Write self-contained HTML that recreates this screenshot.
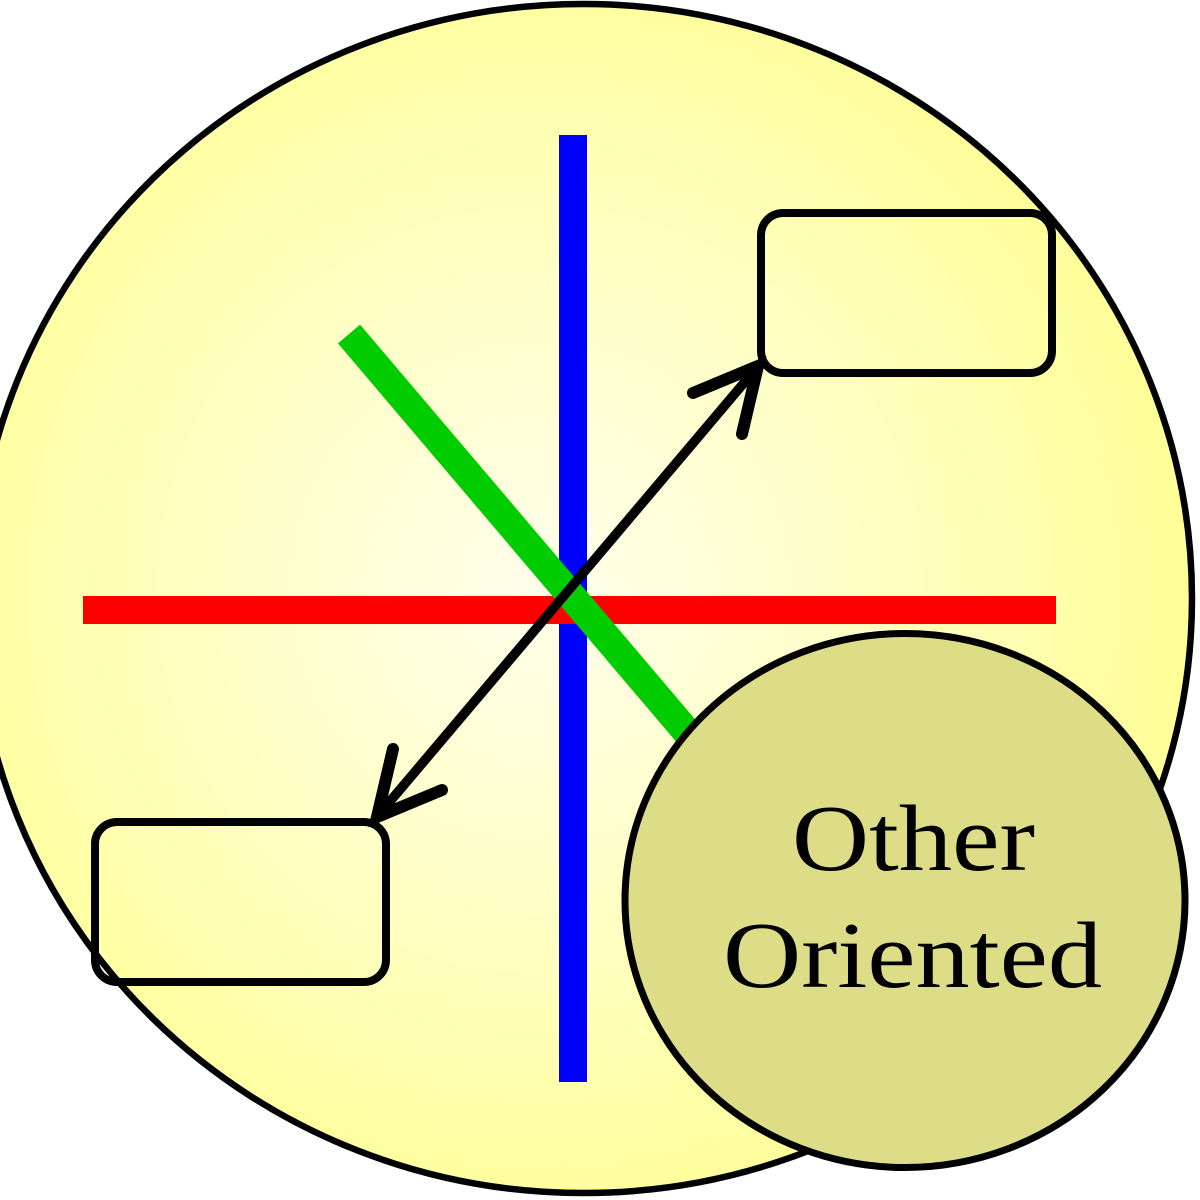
<!DOCTYPE html>
<html>
<head>
<meta charset="utf-8">
<style>
  html, body { margin: 0; padding: 0; background: #ffffff; }
  svg { display: block; }
</style>
</head>
<body>
<svg width="1200" height="1200" viewBox="0 0 1200 1200" xmlns="http://www.w3.org/2000/svg">
  <defs>
    <radialGradient id="bg" cx="540" cy="590" r="640" gradientUnits="userSpaceOnUse">
      <stop offset="0" stop-color="#ffffec"/>
      <stop offset="0.5" stop-color="#ffffc6"/>
      <stop offset="1" stop-color="#ffff9a"/>
    </radialGradient>
  </defs>

  <!-- big ellipse -->
  <ellipse cx="583.5" cy="598.5" rx="608.5" ry="594.5" fill="url(#bg)" stroke="#000" stroke-width="6.5"/>

  <!-- blue vertical -->
  <rect x="559" y="135" width="28" height="947" fill="#0000ff"/>
  <!-- red horizontal -->
  <rect x="83" y="596" width="973" height="28" fill="#ff0000"/>
  <!-- green diagonal -->
  <line x1="349" y1="334" x2="720" y2="771" stroke="#00cc00" stroke-width="29" stroke-linecap="butt"/>

  <!-- rectangles -->
  <rect x="761" y="213" width="291" height="160" rx="22" ry="22" fill="none" stroke="#000" stroke-width="8"/>
  <rect x="95" y="822" width="291" height="160" rx="22" ry="22" fill="none" stroke="#000" stroke-width="8"/>

  <!-- double arrow -->
  <line x1="381" y1="812" x2="754" y2="371" stroke="#000" stroke-width="9.5"/>
  <polyline points="393,749 377,817 442,790" fill="none" stroke="#000" stroke-width="12" stroke-linecap="round" stroke-linejoin="miter" stroke-miterlimit="10"/>
  <polyline points="693,393 758,366 742,434" fill="none" stroke="#000" stroke-width="12" stroke-linecap="round" stroke-linejoin="miter" stroke-miterlimit="10"/>

  <!-- other oriented circle -->
  <ellipse cx="905" cy="900.5" rx="280" ry="267" fill="#dddd88" stroke="#000" stroke-width="7"/>
  <text x="792" y="870" font-family="'Liberation Serif', serif" font-size="94" fill="#000" textLength="243" lengthAdjust="spacingAndGlyphs">Other</text>
  <text x="723" y="987" font-family="'Liberation Serif', serif" font-size="94" fill="#000" textLength="379" lengthAdjust="spacingAndGlyphs">Oriented</text>
</svg>
</body>
</html>
